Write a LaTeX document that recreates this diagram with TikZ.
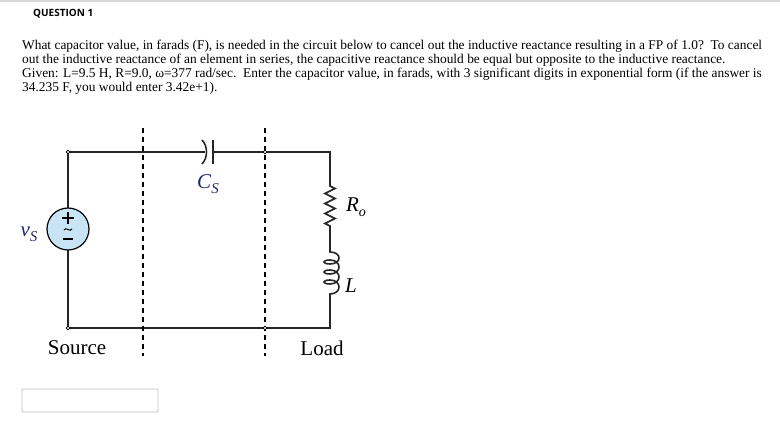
\documentclass[tikz,border=0pt]{standalone}
\usepackage{fontspec}
\setmainfont{Liberation Serif}
\newfontfamily\titlefont{Open Sans}
\definecolor{lblue}{RGB}{200,228,245}
\definecolor{dblue}{RGB}{30,40,110}
\begin{document}
\begin{tikzpicture}[x=1pt,y=-1pt,
  wire/.style={line width=1.6pt,black!85},
  dash line/.style={line width=1.6pt,dash pattern=on 5pt off 4pt},
  para/.style={anchor=base west,inner sep=0pt,font=\fontsize{13.4}{14}\selectfont},
  lbl/.style={inner sep=0pt,font=\fontsize{21}{22}\selectfont},
  term/.style={circle,draw,fill=white,inner sep=1.3pt,line width=0.8pt}]
\useasboundingbox (0,0) rectangle (780,427);
\draw[black!15,line width=2pt] (0,1) -- (780,1);
\node[anchor=west,inner sep=0pt,font=\titlefont\bfseries\fontsize{10}{12}\selectfont] (q) at (33,14) {QUESTION 1};
\node[para] (l1) at (22,50) {What capacitor value, in farads (F), is needed in the circuit below to cancel out the inductive reactance resulting in a FP of 1.0?\ \ To cancel};
\node[para] (l2) at (22,64) {out the inductive reactance of an element in series, the capacitive reactance should be equal but opposite to the inductive reactance.};
\node[para] (l3) at (22,78) {Given: L=9.5 H, R=9.0, ω=377 rad/sec.\ \ Enter the capacitor value, in farads, with 3 significant digits in exponential form (if the answer is};
\node[para] (l4) at (22,92) {34.235 F, you would enter 3.42e+1).};
% circuit
\coordinate (tl) at (68,152); \coordinate (bl) at (68,328);
\coordinate (tr) at (330,152); \coordinate (br) at (330,328);
\coordinate (ca) at (205,152); \coordinate (cb) at (213,152);
\coordinate (rt) at (330,183); \coordinate (rb) at (330,232);
\coordinate (lt) at (330,250); \coordinate (lb) at (330,312);
\draw[wire] (tl) -- (ca);
\draw[wire] (cb) -- (tr) -- (rt);
\draw[wire] (rt) -- ++(0,3) -- ++(5,2.5) -- ++(-10,5) -- ++(10,5) -- ++(-10,5) -- ++(10,5) -- ++(-10,5) -- ++(10,5) -- ++(-10,5) -- ++(5,2.5) -- (rb);
\draw[wire] (rb) -- (lt);
\draw[wire] (lt) -- ++(0,2) .. controls ++(12,0) and ++(12,0) .. ++(0,12)
  .. controls ++(-8,0) and ++(-8,0) .. ++(0,-4) .. controls ++(12,0) and ++(12,0) .. ++(0,14)
  .. controls ++(-8,0) and ++(-8,0) .. ++(0,-4) .. controls ++(12,0) and ++(12,0) .. ++(0,14)
  .. controls ++(-8,0) and ++(-8,0) .. ++(0,-4) .. controls ++(12,0) and ++(12,0) .. ++(0,14) -- (lb);
\draw[wire] (lb) -- (br) -- (bl) -- (68,250);
\draw[wire] (tl) -- (68,208);
\node[circle,draw,line width=1.2pt,fill=lblue,minimum size=42pt,inner sep=0pt] (vs) at (68,229) {};
\draw[line width=1.3pt] (62,218) -- (74,218) (68,212) -- (68,224);
\draw[line width=1pt] (64,230) .. controls (66,226) and (70,233) .. (72,229);
\draw[line width=1.3pt] (63,239) -- (73,239);
% capacitor
\draw[wire] (213,140) -- (213,164);
\draw[wire] (202,140) .. controls (208,146) and (208,158) .. (202,164);
% dashed lines
\draw[dash line] (143,128) -- (143,356);
\draw[dash line] (265,128) -- (265,356);
\node[term] (t1) at (tl) {};
\node[term] (t2) at (bl) {};
\node[term] (t3) at (265,152) {};
\node[term] (t4) at (265,328) {};
\node[lbl,text=dblue] (cs) at (208,184) {\textit{C\raisebox{-0.25em}{\fontsize{15}{15}\selectfont S}}};
\node[lbl,text=dblue] (vsl) at (29,234) {\textit{v\raisebox{-0.25em}{\fontsize{15}{15}\selectfont S}}};
\node[lbl] (ro) at (356,207) {\textit{R\raisebox{-0.25em}{\fontsize{14}{14}\selectfont o}}};
\node[lbl] (ll) at (351,286) {\textit{L}};
\node[lbl] (src) at (77,348) {Source};
\node[lbl] (ld) at (322,348) {Load};
\draw[black!25,line width=0.8pt,rounded corners=1pt] (22,389) rectangle (158,412);
\end{tikzpicture}
\end{document}
